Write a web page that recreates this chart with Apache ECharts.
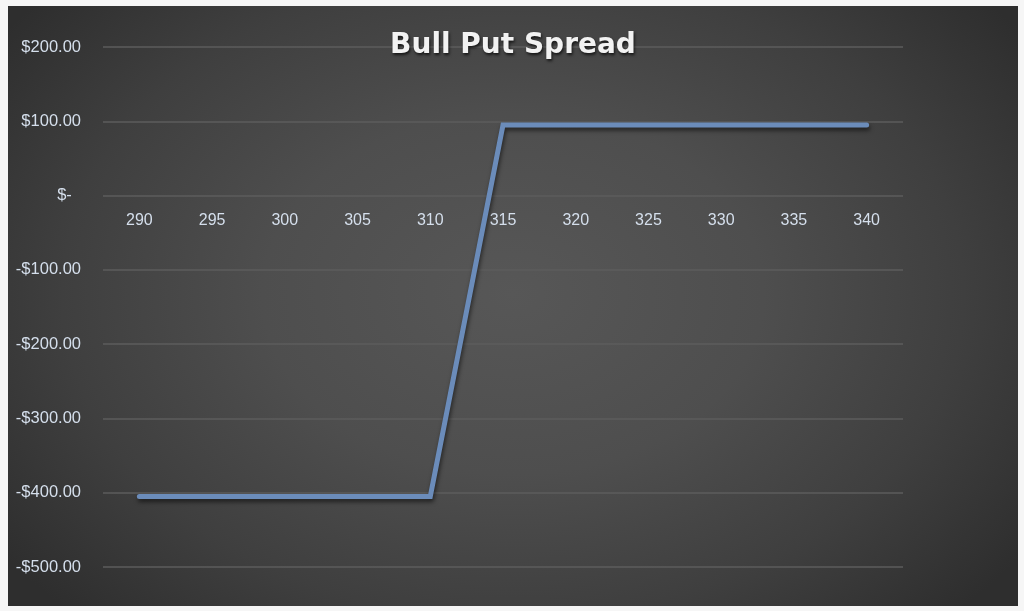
<!DOCTYPE html>
<html>
<head>
<meta charset="utf-8">
<script src="https://cdn.jsdelivr.net/npm/echarts@6/dist/echarts.min.js"></script>
<style>
  html, body { margin: 0; padding: 0; background: #f6f6f6; width: 1024px; height: 611px; overflow: hidden; }
  #chart {
    position: absolute; left: 8px; top: 6px; width: 1010px; height: 600px;
    background: radial-gradient(ellipse 62% 75% at 50% 48%, #575757 0%, #4e4e4e 40%, #3f3f3f 72%, #2e2e2e 100%);
  }
</style>
</head>
<body>
<div id="chart"></div>
<script>
const titleText = 'Bull Put Spread';
const strikes = ['290', '295', '300', '305', '310', '315', '320', '325', '330', '335', '340'];
const profit = [-405, -405, -405, -405, -405, 95, 95, 95, 95, 95, 95];
const yMin = -500, yMax = 200, yStep = 100;

function money(v) {
  if (v === 0) return '$-  ';
  const s = '$' + Math.abs(v).toFixed(2);
  return v < 0 ? '-' + s : s;
}

const chart = echarts.init(document.getElementById('chart'), null, { renderer: 'canvas' });
chart.setOption({
  backgroundColor: 'transparent',
  animation: false,
  title: {
    text: titleText,
    left: 'center',
    top: 26,
    padding: 0,
    textStyle: {
      fontFamily: 'DejaVu Sans',
      fontWeight: 'bold',
      fontSize: 28,
      color: '#f2f2f2',
      textShadowColor: 'rgba(0,0,0,0.7)',
      textShadowBlur: 3,
      textShadowOffsetX: 1,
      textShadowOffsetY: 2
    }
  },
  grid: { left: 95, right: 115, top: 41, bottom: 39, containLabel: false },
  xAxis: {
    type: 'category',
    data: strikes,
    boundaryGap: true,
    position: 'bottom',
    offset: 0,
    axisLine: { show: false, onZero: false },
    axisTick: { show: false },
    axisLabel: {
      color: '#d5dfec',
      fontFamily: 'Liberation Sans',
      fontSize: 16,
      margin: 17
    },
    splitLine: { show: false }
  },
  yAxis: {
    type: 'value',
    min: yMin,
    max: yMax,
    interval: yStep,
    axisLine: { show: false },
    axisTick: { show: false },
    axisLabel: {
      color: '#d5dfec',
      fontFamily: 'Liberation Sans',
      fontSize: 16.5,
      margin: 22,
      formatter: money
    },
    splitLine: { lineStyle: { color: '#5c5c5c', width: 1.5 } }
  },
  series: [{
    type: 'line',
    data: profit,
    symbol: 'none',
    lineStyle: {
      color: '#6b8cba',
      width: 5,
      cap: 'round',
      join: 'miter',
      shadowColor: 'rgba(0,0,0,0.55)',
      shadowBlur: 4,
      shadowOffsetX: 1,
      shadowOffsetY: 3
    }
  }]
});
// Place the category axis (with its labels) on the value axis' zero line.
const zeroPx = chart.convertToPixel({ yAxisIndex: 0 }, 0);
const bottomPx = chart.convertToPixel({ yAxisIndex: 0 }, yMin);
chart.setOption({ xAxis: { offset: -(bottomPx - zeroPx) } });
</script>
</body>
</html>
